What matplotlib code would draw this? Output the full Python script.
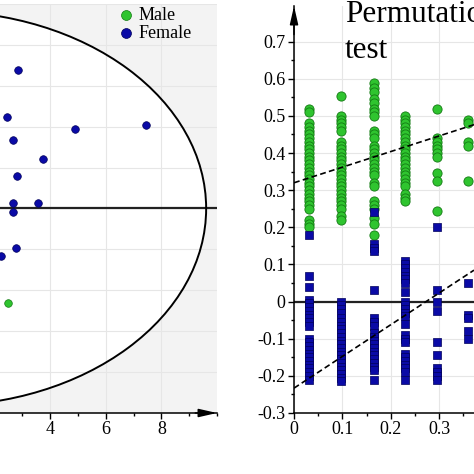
import numpy as np
import matplotlib.pyplot as plt
from matplotlib.patches import Ellipse
from matplotlib.ticker import MultipleLocator

plt.rcParams['font.family'] = ['Liberation Serif', 'DejaVu Serif']

# left panel: score plot, only its right part is in view
female_x = [2.86, 2.46, 4.90, 7.46, 2.68, 3.76, 2.82, 2.68, 3.56, 2.66, 2.77, 2.23]
female_y = [6.76, 4.46, 3.90, 4.09, 3.37, 2.43, 1.58, 0.26, 0.28, -0.18, -1.94, -2.30]
male_x = [2.49]
male_y = [-4.61]
ellipse_w, ellipse_h = 19.22, 19.30   # Hotelling T2 ellipse, centred at 0

# right panel: permutation test, one column per permutation group
perm_x = [0.032, 0.097, 0.165, 0.230, 0.296, 0.361]
r2_cols = [
    [0.52, 0.51, 0.48, 0.47, 0.46, 0.45, 0.44, 0.43, 0.42, 0.41, 0.40, 0.39, 0.38, 0.37,
     0.36, 0.35, 0.34, 0.33, 0.32, 0.31, 0.30, 0.29, 0.28, 0.27, 0.26, 0.25, 0.22, 0.21, 0.20],
    [0.555, 0.50, 0.49, 0.48, 0.47, 0.46, 0.43, 0.42, 0.41, 0.40, 0.39, 0.38, 0.37, 0.36,
     0.35, 0.34, 0.33, 0.32, 0.31, 0.30, 0.29, 0.28, 0.27, 0.26, 0.25, 0.23, 0.22],
    [0.59, 0.575, 0.565, 0.545, 0.535, 0.52, 0.51, 0.50, 0.46, 0.45, 0.44, 0.42, 0.41, 0.40,
     0.39, 0.38, 0.37, 0.36, 0.35, 0.34, 0.32, 0.31, 0.27, 0.26, 0.25, 0.225, 0.21, 0.18],
    [0.50, 0.49, 0.48, 0.47, 0.46, 0.45, 0.44, 0.43, 0.42, 0.41, 0.40, 0.39, 0.38, 0.37,
     0.36, 0.35, 0.34, 0.33, 0.32, 0.31, 0.29, 0.28, 0.27],
    [0.52, 0.44, 0.43, 0.42, 0.41, 0.40, 0.39, 0.345, 0.325, 0.245],
    [0.49, 0.48, 0.43, 0.42, 0.325],
]
q2_cols = [
    [0.18, 0.07, 0.04, 0.005, -0.005, -0.015, -0.025, -0.035, -0.045, -0.055, -0.065, -0.10,
     -0.11, -0.12, -0.13, -0.14, -0.15, -0.16, -0.17, -0.18, -0.19, -0.20, -0.21],
    [0.0, -0.01, -0.02, -0.03, -0.045, -0.055, -0.065, -0.075, -0.085, -0.095, -0.105, -0.115,
     -0.125, -0.135, -0.145, -0.155, -0.165, -0.175, -0.185, -0.195, -0.205, -0.215],
    [0.24, 0.155, 0.145, 0.135, 0.03, -0.045, -0.055, -0.065, -0.085, -0.095, -0.105, -0.115,
     -0.125, -0.135, -0.145, -0.155, -0.165, -0.175, -0.185, -0.21],
    [0.11, 0.10, 0.09, 0.08, 0.07, 0.06, 0.05, 0.025, 0.0, -0.01, -0.02, -0.03, -0.04, -0.06,
     -0.09, -0.10, -0.11, -0.14, -0.15, -0.16, -0.17, -0.18, -0.19, -0.21],
    [0.20, 0.03, 0.0, -0.025, -0.11, -0.145, -0.18, -0.19, -0.20, -0.21],
    [0.05, -0.035, -0.045, -0.08, -0.10],
]
r2_line = (0.32, 0.42)     # intercept, slope
q2_line = (-0.233, 0.853)

green, green_edge = '#2fc42f', '#137a13'
blue, blue_edge = '#0a0aa6', '#00005a'
gridc = '#e6e6e6'

fig = plt.figure(figsize=(4.74, 4.74), dpi=100)

def arrow(ax, start, end):
    ax.annotate('', xy=end, xytext=start, xycoords='axes fraction',
                arrowprops=dict(arrowstyle='-|>,head_length=1.1,head_width=0.25',
                                color='k', lw=1.1, shrinkA=0, shrinkB=0,
                                mutation_scale=10), annotation_clip=False)

# ---- left panel
ax1 = fig.add_axes([0.0, 0.1287, 0.4578, 0.8629])
ax1.set_facecolor('#f3f3f3')
ax1.set_xlim(2.2, 10.0)
ax1.set_ylim(-10, 10)
ax1.add_patch(Ellipse((0, 0), ellipse_w, ellipse_h, facecolor='white', edgecolor='none', zorder=0.2))
ax1.add_patch(Ellipse((0, 0), ellipse_w, ellipse_h, facecolor='none', edgecolor='k', lw=1.4, zorder=2))
ax1.set_axisbelow(True)
ax1.grid(True, color=gridc, lw=0.8)
ax1.axhline(0, color='#222222', lw=1.6, zorder=1.5)
ax1.scatter(male_x, male_y, s=30, c=green, edgecolors=green_edge, linewidths=0.5, zorder=3, label='Male')
ax1.scatter(female_x, female_y, s=30, c=blue, edgecolors=blue_edge, linewidths=0.5, zorder=3, label='Female')
ax1.set_xticks([4, 6, 8])
ax1.xaxis.set_minor_locator(MultipleLocator(1))
ax1.yaxis.set_major_locator(MultipleLocator(2))
ax1.tick_params(axis='y', left=False, labelleft=False)
ax1.tick_params(axis='x', which='major', length=4, width=1, labelsize=13, pad=2)
ax1.tick_params(axis='x', which='minor', length=2.5, width=1)
for s in ['left', 'top', 'right']:
    ax1.spines[s].set_visible(False)
ax1.spines['bottom'].set_linewidth(1.1)
arrow(ax1, (0.9, 0), (1.0, 0))
ax1.legend(loc='upper left', frameon=False, fontsize=13, handlelength=1.0, handletextpad=0.2,
           borderaxespad=0.0, labelspacing=0.05, markerscale=1.3,
           bbox_to_anchor=(0.506, 1.01))

# ---- right panel
ax2 = fig.add_axes([0.6203, 0.1287, 0.3797, 0.8586])
ax2.set_xlim(0, 0.3724)
ax2.set_ylim(-0.3, 0.796)
ax2.set_axisbelow(True)
ax2.grid(True, color=gridc, lw=0.8)
ax2.axhline(0, color='#222222', lw=1.6, zorder=1.5)
for xv, col in zip(perm_x, r2_cols):
    ax2.scatter([xv] * len(col), col, s=44, c=green, edgecolors=green_edge, linewidths=0.6, zorder=3)
for xv, col in zip(perm_x, q2_cols):
    ax2.scatter([xv] * len(col), col, s=30, marker='s', c=blue, edgecolors=blue_edge, linewidths=0.5, zorder=3)
xx = np.array([0, 0.3724])
ax2.plot(xx, r2_line[0] + r2_line[1] * xx, 'k--', lw=1.2, dashes=(3.5, 2), zorder=4)
ax2.plot(xx, q2_line[0] + q2_line[1] * xx, 'k--', lw=1.2, dashes=(3.5, 2), zorder=4)
ax2.xaxis.set_minor_locator(MultipleLocator(0.05))
ax2.yaxis.set_minor_locator(MultipleLocator(0.05))
ax2.set_xticks([0, 0.1, 0.2, 0.3])
ax2.set_xticklabels(['0', '0.1', '0.2', '0.3'])
yt = [-0.3, -0.2, -0.1, 0, 0.1, 0.2, 0.3, 0.4, 0.5, 0.6, 0.7]
ax2.set_yticks(yt)
ax2.set_yticklabels(['0' if v == 0 else f'{v:.1f}' for v in yt])
ax2.tick_params(which='major', length=4, width=1, labelsize=13, pad=2)
ax2.tick_params(which='minor', length=2.5, width=1)
for s in ['top', 'right']:
    ax2.spines[s].set_visible(False)
for s in ['left', 'bottom']:
    ax2.spines[s].set_linewidth(1.1)
arrow(ax2, (0, 0.93), (0, 1.0))

fig.text(345 / 474, 1.0, 'Permutation\ntest', fontsize=22.5, va='top', ha='left', linespacing=1.34)

fig.savefig('out.png', dpi=100)
